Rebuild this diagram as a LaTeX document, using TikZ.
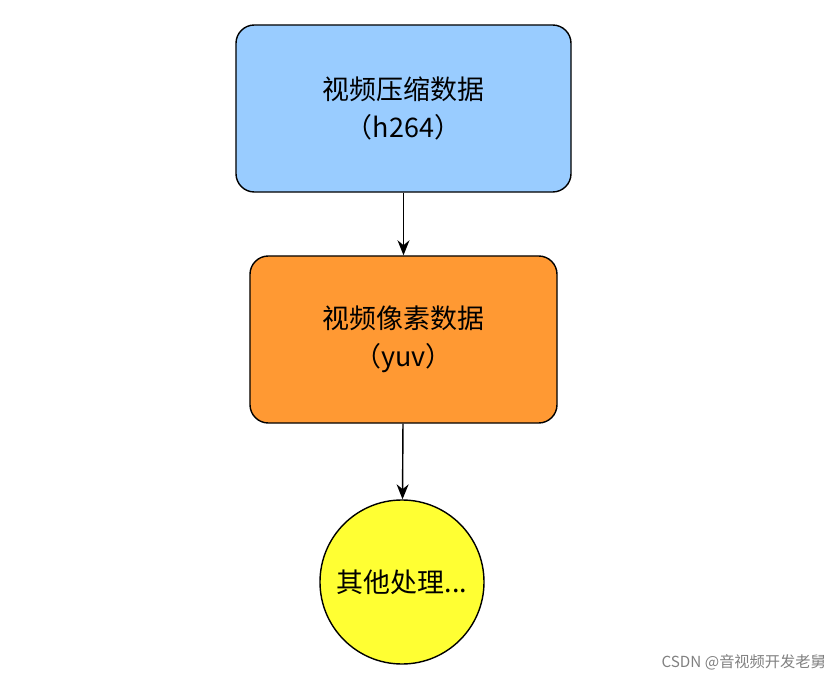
\documentclass[tikz,border=0pt]{standalone}
\usepackage{fontspec}
\setmainfont{Noto Sans CJK SC}
\usetikzlibrary{positioning,arrows.meta}
\definecolor{boxblue}{HTML}{99CCFF}
\definecolor{boxorange}{HTML}{FF9933}
\definecolor{boxyellow}{HTML}{FFFF33}
\tikzset{
	stagebox/.style={draw, line width=1.2pt, rounded corners=0.55cm, align=center, font=\fontsize{23}{32}\selectfont},
	flow/.style={-{Stealth[length=0.45cm, width=0.36cm]}, line width=1.2pt}
}
\begin{document}
\begin{tikzpicture}[x=0.03cm, y=-0.03cm]
	\useasboundingbox (0,0) rectangle (838,682);

	\node[stagebox, fill=boxblue, minimum width=10.05cm, minimum height=5.01cm] (h264) at (403.5, 108.5) {视频压缩数据\\（h264）};
	\node[stagebox, fill=boxorange, minimum width=9.21cm, minimum height=5.01cm] (yuv) at (403.5, 339.5) {视频像素数据\\（yuv）};
	\node[draw, circle, line width=1.2pt, fill=boxyellow, minimum size=4.92cm, inner sep=0pt, font=\fontsize{23}{28}\selectfont] (other) at (402, 582) {其他处理...};

	\draw[flow] (h264) to (yuv);
	\draw[flow] (yuv) to (other);

	\node[text=gray, font=\fontsize{13}{15}\selectfont, anchor=east] (mark) at (830, 662) {CSDN @音视频开发老舅};
\end{tikzpicture}
\end{document}
